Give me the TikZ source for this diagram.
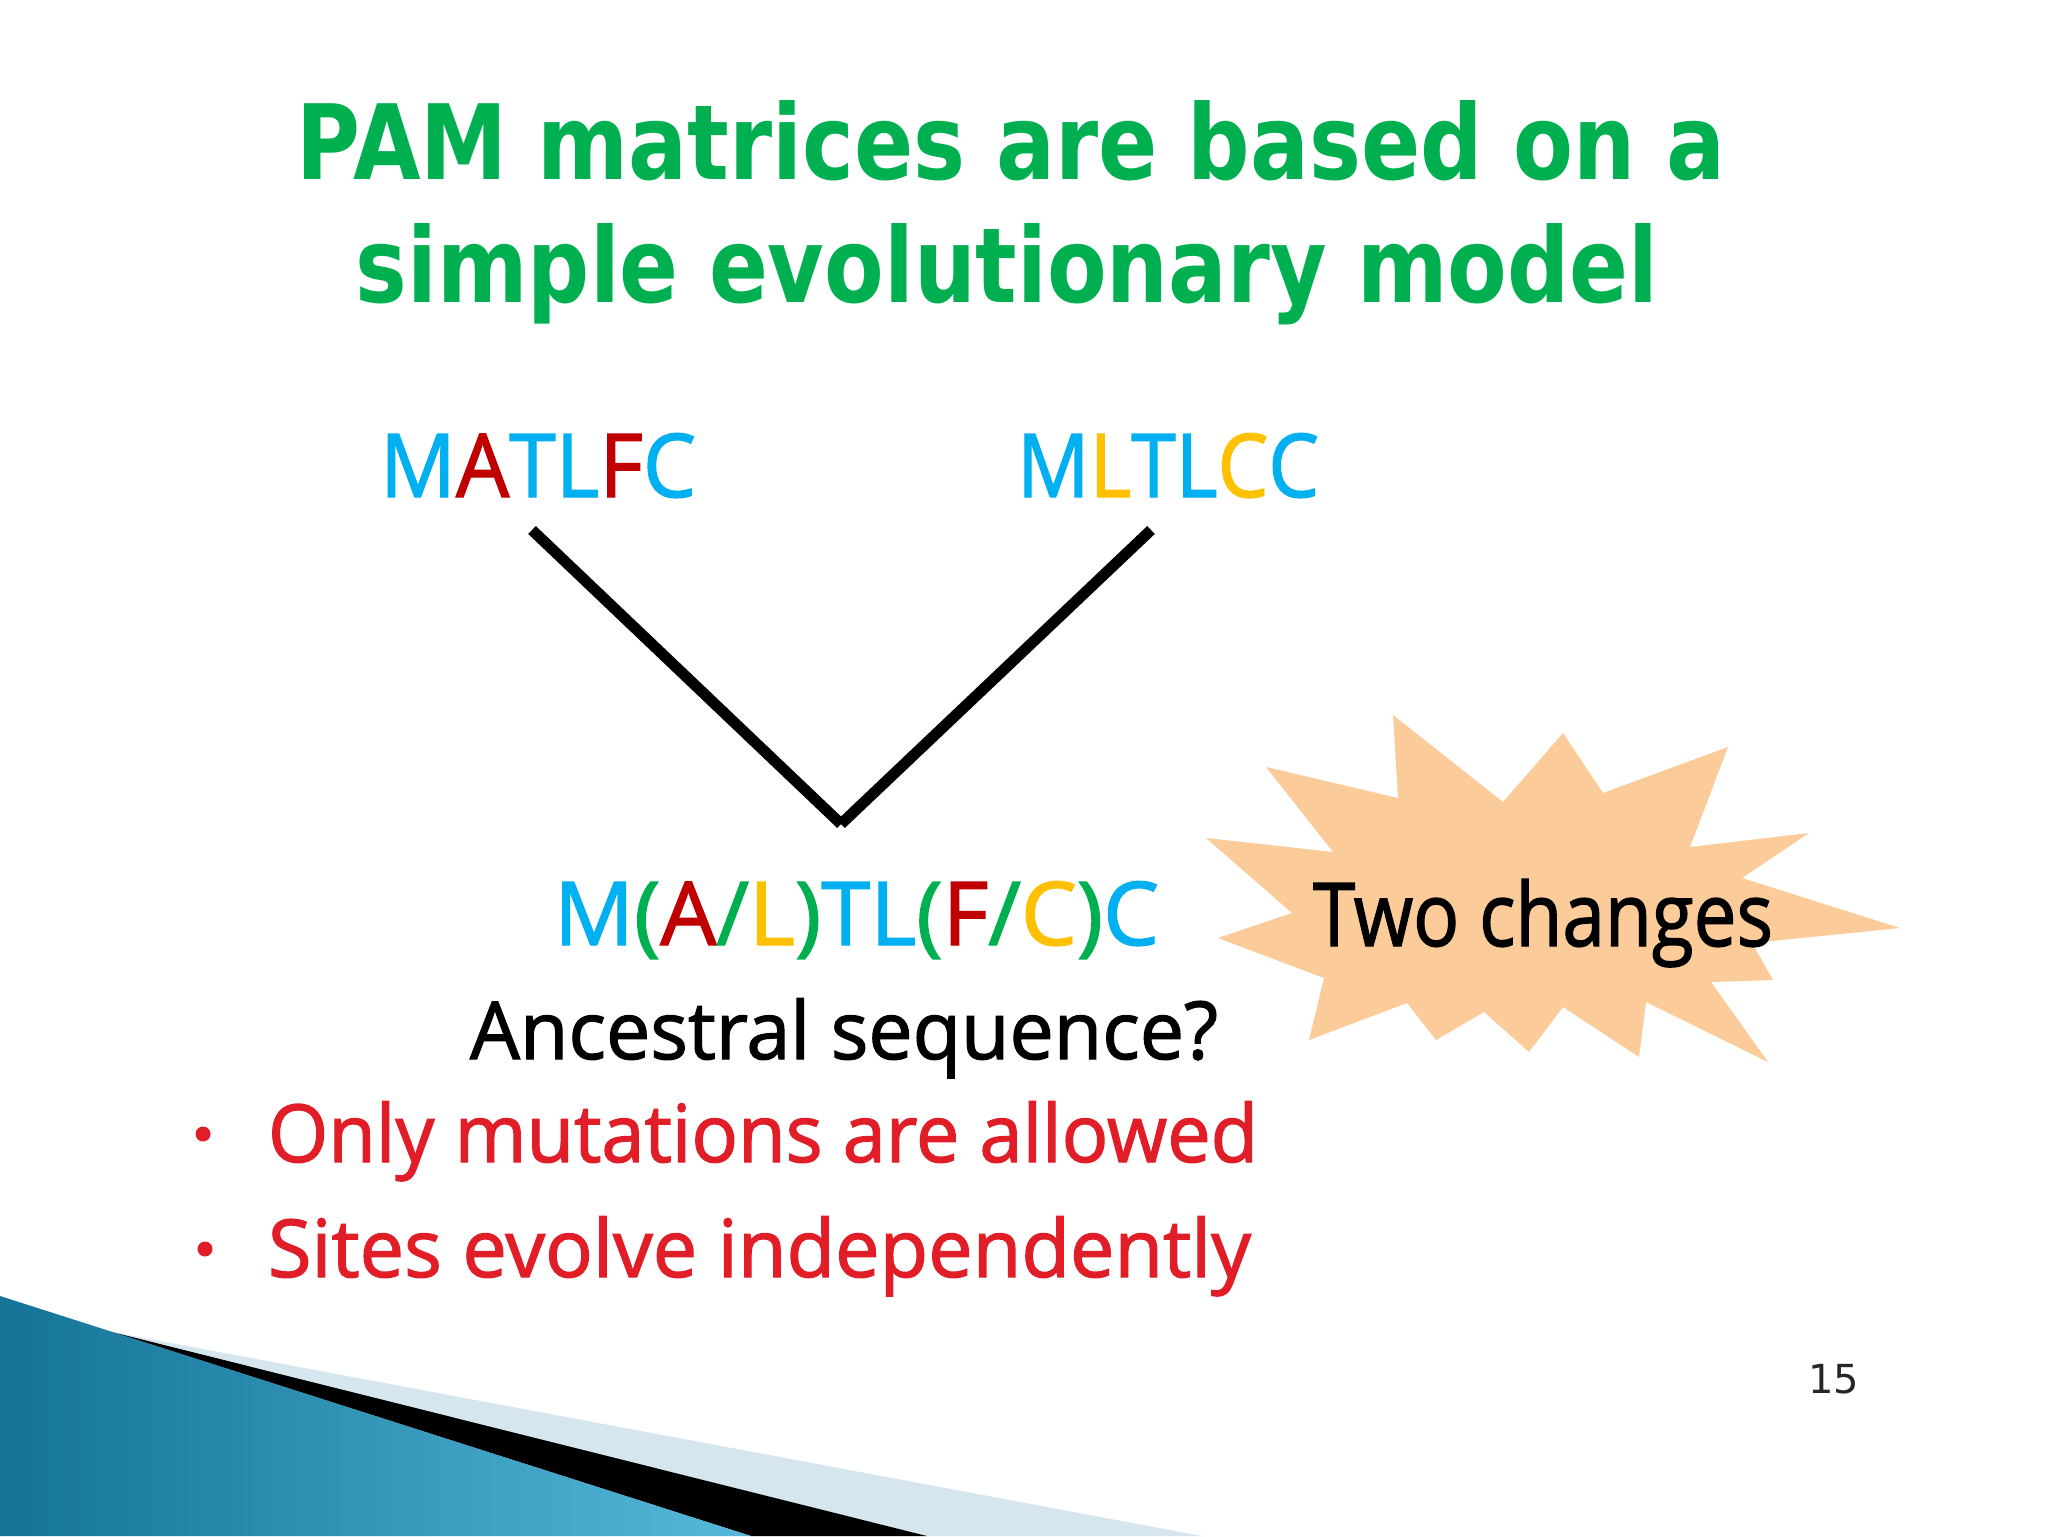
\documentclass[tikz,border=0pt]{standalone}
\usepackage{fontspec}
\usepackage{graphicx}
\setmainfont{DejaVu Sans}
\newfontfamily\comicf[FakeBold=1.6]{Open Sans}
\definecolor{pamgreen}{RGB}{0,176,80}
\definecolor{cy}{RGB}{0,176,240}
\definecolor{dr}{RGB}{192,0,0}
\definecolor{yl}{RGB}{255,192,0}
\definecolor{gr}{RGB}{0,176,80}
\definecolor{bred}{RGB}{225,30,40}
\definecolor{burstc}{RGB}{251,203,153}
\definecolor{tealdark}{RGB}{20,115,150}
\definecolor{teallight}{RGB}{85,185,220}
\definecolor{pale}{RGB}{214,230,238}
\newcommand\fitw[2]{\resizebox{#1}{\height}{#2}}
\tikzset{
  txt/.style={inner sep=0pt, outer sep=0pt, anchor=base west},
  titletxt/.style={inner sep=0pt, outer sep=0pt, anchor=base, text=pamgreen, font=\fontsize{52}{60}\selectfont\bfseries},
  seq/.style={txt, font=\comicf\fontsize{44}{50}\selectfont},
  comic/.style={txt, font=\comicf\fontsize{40}{48}\selectfont},
  bul/.style={circle, fill=bred, minimum size=7.5pt, inner sep=0pt},
  branch/.style={line width=5.5pt, line cap=butt, black},
}
\begin{document}
\begin{tikzpicture}[x=0.5pt,y=-0.5pt]
\useasboundingbox (0,0) rectangle (2048,1536);
\fill[white] (0,0) rectangle (2048,1536);
% bottom-left decoration
\fill[pale] (112,1332) -- (1202,1536) -- (927,1536) -- cycle;
\fill[black] (112,1332) -- (927,1536) -- (751,1536) -- cycle;
\shade[left color=tealdark, right color=teallight] (0,1296) -- (751,1536) -- (0,1536) -- cycle;
% title
\node[titletxt] (t1) at (1011,179) {\fitw{714pt}{PAM matrices are based on a}};
\node[titletxt] (t2) at (1007,302) {\fitw{651pt}{simple evolutionary model}};
% sequences
\node[seq] (s1) at (380,497) {\fitw{158pt}{\textcolor{cy}{M}\textcolor{dr}{A}\textcolor{cy}{TL}\textcolor{dr}{F}\textcolor{cy}{C}}};
\node[seq] (s2) at (1017,497) {\fitw{151pt}{\textcolor{cy}{M}\textcolor{yl}{L}\textcolor{cy}{TL}\textcolor{yl}{C}\textcolor{cy}{C}}};
% tree
\coordinate (vl) at (532,530);
\coordinate (vr) at (1151,530);
\coordinate (vb) at (841,824);
\draw[branch] (vl) -- (vb);
\draw[branch] (vr) -- (vb);
% ancestor
\node[seq] (anc) at (554,945) {\fitw{302.5pt}{\textcolor{cy}{M}\textcolor{gr}{(}\textcolor{dr}{A}\textcolor{gr}{/}\textcolor{yl}{L}\textcolor{gr}{)}\textcolor{cy}{TL}\textcolor{gr}{(}\textcolor{dr}{F}\textcolor{gr}{/}\textcolor{yl}{C}\textcolor{gr}{)}\textcolor{cy}{C}}};
\node[comic] (q) at (470,1059) {\fitw{374pt}{Ancestral sequence?}};
% starburst
\fill[burstc] (1266,767) -- (1398,798) -- (1393,715) -- (1503,802) -- (1563,733) -- (1603,793) -- (1728,747) -- (1690,847) -- (1809,833) -- (1742,878) -- (1900,928) -- (1752,943) -- (1773,980) -- (1711,982) -- (1768,1062) -- (1646,1002) -- (1639,1057) -- (1563,1007) -- (1529,1052) -- (1484,1012) -- (1436,1040) -- (1407,1003) -- (1309,1040) -- (1324,978) -- (1218,938) -- (1292,913) -- (1206,838) -- (1333,852) -- cycle;
\node[seq] (two) at (1313,946) {\fitw{230pt}{Two changes}};
% bullets
\node[bul] (b1) at (203,1134) {};
\node[comic, text=bred] (l1) at (268,1162) {\fitw{495pt}{Only mutations are allowed}};
\node[bul] (b2) at (205,1249) {};
\node[comic, text=bred] (l2) at (268,1277) {\fitw{491.5pt}{Sites evolve independently}};
% page number
\node[txt, font=\fontsize{20}{24}\selectfont, text=black!85] (pn) at (1808,1393) {15};
\end{tikzpicture}
\end{document}
